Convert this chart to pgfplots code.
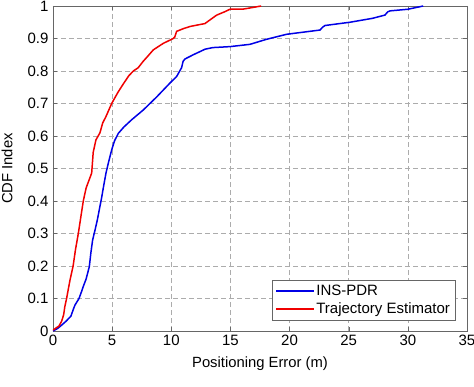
\documentclass[border=0pt]{standalone}
\usepackage{fontspec}
\setmainfont{Liberation Sans}
\usepackage{pgfplots}
\pgfplotsset{compat=1.18}
\begin{document}
\begin{tikzpicture}
\definecolor{myblue}{RGB}{0,0,230}
\definecolor{myred}{RGB}{240,0,0}
\begin{axis}[
  at={(0,0)}, anchor=south west,
  scale only axis, width=414pt, height=325pt,
  xmin=0, xmax=35, ymin=0, ymax=1,
  xtick={0,5,...,35},
  ytick={0,0.1,...,1.0},
  yticklabels={0,0.1,0.2,0.3,0.4,0.5,0.6,0.7,0.8,0.9,1},
  xmajorgrids, ymajorgrids,
  grid style={dash pattern=on 5pt off 3pt, gray!65, line width=0.5pt},
  axis line style={gray!80!black},
  tick style={gray!80!black},
  tick align=inside,
  major tick length=4pt,
  font=\fontsize{15}{17}\selectfont,
  tick label style={font=\fontsize{15}{17}\selectfont},
  label style={font=\fontsize{14.8}{17}\selectfont},
  /pgf/number format/assume math mode=true,
  xlabel={Positioning Error (m)},
  ylabel={CDF Index},
  xlabel style={at={(axis description cs:0.5,0)}, anchor=north, yshift=-22pt},
  ylabel style={at={(axis description cs:0,0.5)}, anchor=south, yshift=37pt},
  xticklabel style={yshift=-0.5pt},
  yticklabel style={xshift=-1pt},
  legend style={at={(axis cs:34.0,0.034)}, anchor=south east, draw=gray!80!black, font=\fontsize{15}{17}\selectfont, inner xsep=3pt, inner ysep=2.5pt, row sep=2pt},
  legend cell align=left,
  legend image code/.code={\draw[#1, line width=1.5pt] (0cm,0cm) -- (1.32cm,0cm);},
]
\addplot[myblue, line width=1.5pt] coordinates {
(0,0) (0.4,0.008) (0.73,0.018) (1.1,0.03) (1.52,0.046) (1.7,0.065) (1.86,0.08) (2.2,0.10) (2.4,0.12) (2.56,0.137) (2.8,0.16) (3.07,0.198) (3.2,0.24) (3.35,0.28) (3.55,0.31) (3.75,0.342) (3.95,0.38) (4.11,0.41) (4.3,0.45) (4.48,0.486) (4.7,0.52) (4.96,0.557) (5.2,0.585) (5.52,0.608) (6.0,0.628) (6.65,0.65) (7.63,0.68) (8.76,0.72) (9.89,0.763) (10.45,0.783) (10.87,0.81) (11.0,0.83) (11.16,0.837) (11.86,0.85) (12.85,0.867) (13.5,0.872) (14.96,0.875) (16.65,0.882) (18,0.897) (19.75,0.913) (22.57,0.926) (22.8,0.935) (23.0,0.94) (25.1,0.95) (27,0.962) (28.06,0.972) (28.3,0.982) (28.5,0.985) (30,0.99) (31.3,1.0)
};
\addlegendentry{INS-PDR}
\addplot[myred, line width=1.5pt] coordinates {
(0,0.003) (0.5,0.015) (0.73,0.03) (0.9,0.05) (1.0,0.075) (1.15,0.10) (1.3,0.13) (1.44,0.157) (1.7,0.2) (1.9,0.25) (2.14,0.3) (2.35,0.35) (2.56,0.40) (2.8,0.44) (3.27,0.486) (3.4,0.55) (3.63,0.588) (3.97,0.61) (4.2,0.64) (4.48,0.66) (4.96,0.70) (5.5,0.735) (5.94,0.76) (6.4,0.785) (6.79,0.80) (7.2,0.81) (7.63,0.83) (8.0,0.845) (8.48,0.865) (9.32,0.885) (10.17,0.90) (10.3,0.905) (10.45,0.922) (11.0,0.93) (11.58,0.937) (12.85,0.946) (13.3,0.958) (13.84,0.972) (14.5,0.982) (14.96,0.99) (16,0.99) (16.5,0.993) (17.6,1.0)
};
\addlegendentry{Trajectory Estimator}
\end{axis}
\pgfresetboundingbox
\useasboundingbox (-53pt,-55pt) rectangle (421pt,331pt);
\end{tikzpicture}
\end{document}
